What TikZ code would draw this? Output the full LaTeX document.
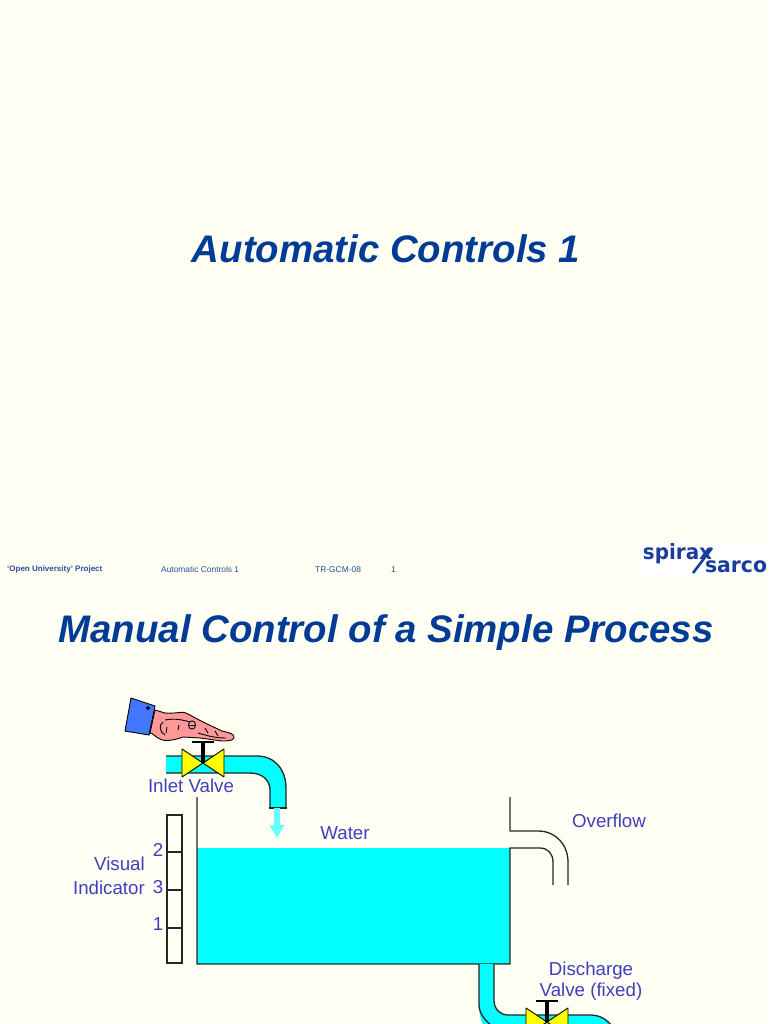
\documentclass[tikz,border=0pt]{standalone}
\usepackage{fontspec}
\setmainfont{Liberation Sans}
\newfontfamily\logofont{DejaVu Sans}
\usetikzlibrary{arrows.meta}
\definecolor{slidebg}{HTML}{FFFFF3}
\definecolor{titleblue}{HTML}{003C96}
\definecolor{labelblue}{HTML}{3F3FBF}
\definecolor{footblue}{HTML}{2A4CA0}
\definecolor{waterc}{HTML}{00FFFF}
\definecolor{dropc}{HTML}{66FFFF}
\definecolor{valvec}{HTML}{FFFF00}
\definecolor{skinc}{HTML}{FF9999}
\definecolor{cuffc}{HTML}{4477FF}
\definecolor{logoblue}{HTML}{1A3C9C}
\tikzset{
    titletext/.style={text=titleblue,font=\fontsize{38.4}{44}\selectfont\bfseries\itshape,inner sep=0,anchor=base},
    label/.style={text=labelblue,font=\fontsize{18.7}{22}\selectfont,inner sep=0},
    foot/.style={text=footblue,font=\fontsize{8.4}{9}\selectfont,inner sep=0,anchor=west},
    logotext/.style={inner sep=0,text=logoblue,font=\logofont\fontsize{21}{22}\selectfont\bfseries},
    wall/.style={line width=1.3pt,draw=black!85},
    handline/.style={line width=.9pt},
}
\begin{document}
\begin{tikzpicture}[x=1pt,y=-1pt]
    \fill[slidebg] (0,0) rectangle (768,1024);
    \useasboundingbox (0,0) rectangle (768,1024);
    \clip (0,0) rectangle (768,1024);

    \node[titletext] (title1) at (386,262) {Automatic Controls 1};
    \node[titletext] (title2) at (386,642) {Manual Control of a Simple Process};

    % footer
    \node[foot,font=\fontsize{8}{9}\selectfont\bfseries] (project) at (7,569) {`Open University' Project};
    \node[foot] (footname) at (161,569.5) {Automatic Controls 1};
    \node[foot] (footref) at (315,569.5) {TR-GCM-08};
    \node[foot] (footpage) at (391,569.5) {1};

    % logo
    \fill[white] (640,542) rectangle (768,577);
    \node[logotext,xscale=.95,anchor=base] (spirax) at (677.5,559.5) {spirax};
    \node[logotext,xscale=.97,anchor=base] (sarco) at (736,572) {sarco};
    \draw[logoblue,line width=2.6pt] (712,548) -- (693,573);

    % water and tank
    \fill[waterc] (197,848) rectangle (510,964);
    \draw[wall] (197,797) -- (197,964) -- (510,964) -- (510,848) -- (540,848)
        .. controls (548,848) and (553,854) .. (553,862) -- (553,885);
    \draw[wall] (510,797) -- (510,831) -- (538,831)
        .. controls (556,831) and (568,845) .. (568,862) -- (568,885);

    % indicator
    \draw[wall] (167,815) rectangle (182,963);
    \foreach \ty in {852,890,928}
        \draw[wall] (167,\ty) -- (182,\ty);

    % inlet pipe
    \fill[waterc] (166,756) -- (257,756) .. controls (275,756) and (286,770) .. (286,788)
        -- (286,808) -- (270,808) -- (270,790) .. controls (270,780) and (262,773) .. (250,773)
        -- (166,773) -- cycle;
    \draw[wall] (166,756) -- (257,756) .. controls (275,756) and (286,770) .. (286,788) -- (286,808);
    \draw[wall] (166,773) -- (250,773) .. controls (262,773) and (270,780) .. (270,790) -- (270,808);
    \draw[wall] (269,808) -- (287,808);
    \draw[dropc,line width=6pt,-{Triangle[length=13pt,width=14pt]}] (277,808) -- (277,838);

    % discharge pipe
    \fill[waterc] (479,964) -- (494,964) -- (494,1000) .. controls (494,1009) and (500,1015) .. (508,1015)
        -- (590,1015) .. controls (600,1015) and (606,1019) .. (612,1026) -- (612,1040) -- (495,1040)
        .. controls (484,1030) and (479,1020) .. (479,1005) -- cycle;
    \draw[wall] (479,964) -- (479,1005) .. controls (479,1012) and (484,1020) .. (492,1026);
    \draw[wall] (494,964) -- (494,1000) .. controls (494,1009) and (500,1015) .. (508,1015) -- (590,1015)
        .. controls (600,1015) and (606,1019) .. (612,1026);

    % valves
    \foreach \vx/\vy in {203/763,547/1022}{
        \draw[valvec,fill=valvec] (\vx-21,\vy-14) -- (\vx,\vy) -- (\vx-21,\vy+14) -- cycle;
        \draw[valvec,fill=valvec] (\vx+21,\vy-14) -- (\vx,\vy) -- (\vx+21,\vy+14) -- cycle;
        \draw[line width=.9pt,line join=round] (\vx-21,\vy-14) -- (\vx+21,\vy+14) -- (\vx+21,\vy-14) -- (\vx-21,\vy+14) -- cycle;
        \draw[line width=3.2pt] (\vx,\vy) -- (\vx,\vy-21);
        \draw[line width=2.8pt] (\vx-11,\vy-21) -- (\vx+11,\vy-21);
    }

    % hand
    \fill[cuffc,draw=black,line width=.9pt] (131,698) -- (155,706) -- (149,735) -- (125,731) -- cycle;
    \draw[handline,fill=cuffc!60!black] (148,708) circle (1.6);
    \fill[skinc,draw=black,line width=.9pt] (155,710) -- (165,713) .. controls (175,714) and (183,711) .. (186,713)
        -- (203,722) -- (222,731) .. controls (230,733) and (235,734) .. (234,738)
        .. controls (233,741) and (226,741) .. (222,741) -- (200,738) -- (183,737)
        .. controls (175,740) and (165,742) .. (160,739) .. controls (155,737) and (153,733) .. (150,733) -- cycle;
    \draw[handline] (163,722) .. controls (158,726) and (160,732) .. (165,735);
    \draw[handline] (167,727) -- (166,733);
    \draw[handline] (179,725) -- (178,730);
    \draw[handline] (165,720) .. controls (175,718) and (183,720) .. (190,722);
    \draw[handline] (192,725) ellipse (3.6 and 4.2);
    \draw[handline] (188,725) -- (196,725);
    \draw[handline] (205,728) -- (208,733);
    \draw[handline] (215,731) -- (218,736);
    \draw[handline] (198,733) .. controls (208,736) and (216,738) .. (226,738);

    % labels
    \node[label] (inlet) at (191,786) {Inlet Valve};
    \node[label] (water) at (345,833) {Water};
    \node[label] (overflow) at (609,821) {Overflow};
    \node[label] (discharge) at (591,970.5) {Discharge};
    \node[label] (fixed) at (591,992) {Valve (fixed)};
    \node[label,anchor=east] (visual) at (145,864) {Visual};
    \node[label,anchor=east] (indicator) at (145,887.5) {Indicator};
    \node[label] (mark2) at (158,849.5) {2};
    \node[label] (mark3) at (158,887.5) {3};
    \node[label] (mark1) at (158,924.5) {1};
\end{tikzpicture}
\end{document}
